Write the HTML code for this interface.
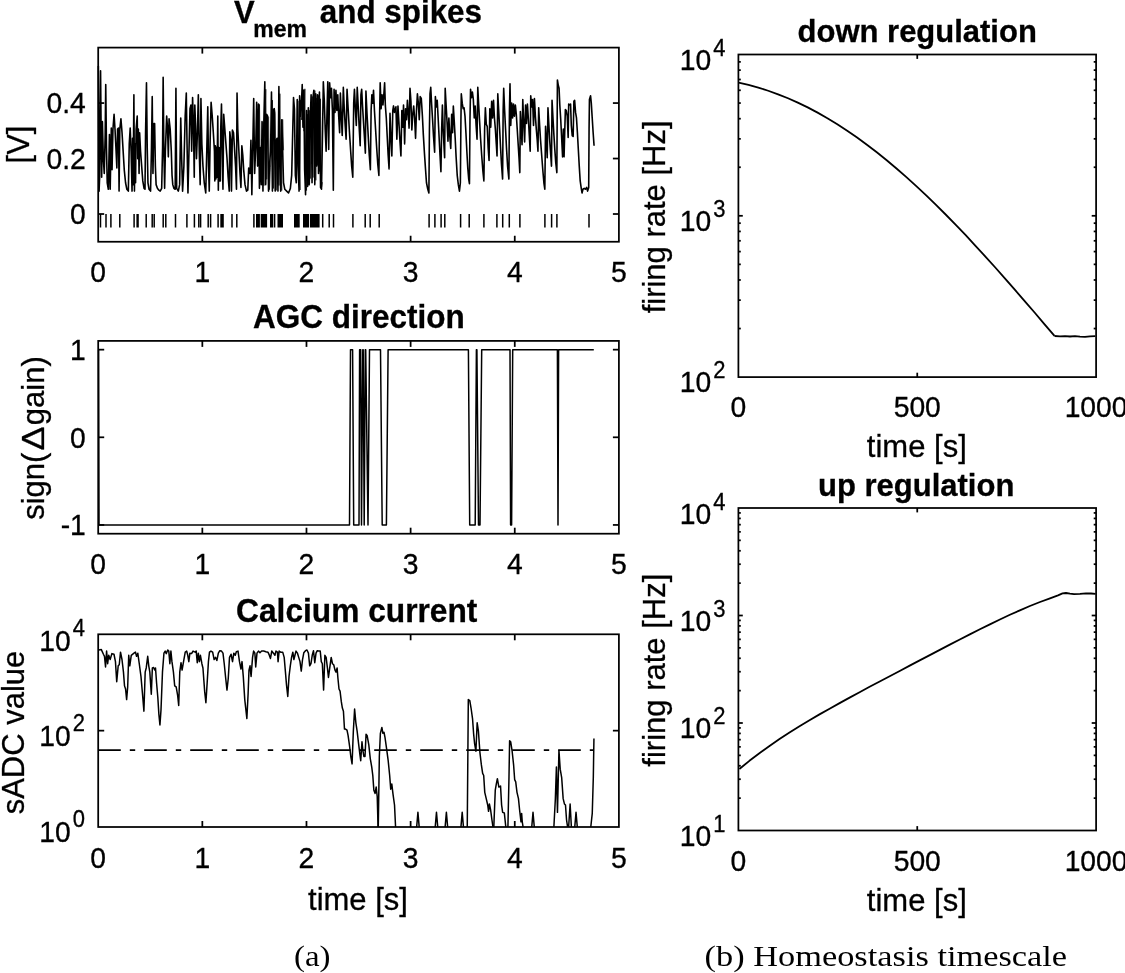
<!DOCTYPE html>
<html><head><meta charset="utf-8"><title>figure</title>
<style>html,body{margin:0;padding:0;background:#fff;overflow:hidden}svg{display:block}text{font-family:"Liberation Sans",sans-serif;fill:#000}.cap{font-family:"Liberation Serif",serif}</style></head><body>
<svg width="1125" height="973" viewBox="0 0 1125 973" stroke="#000">
<g id="p1">
<polyline fill="none" stroke-width="1.6" stroke-linejoin="round"  points="98.33,66.11 99.07,191.11 99.63,177.22 100.56,70.74 101.11,129.07 101.67,177.22 102.41,121.67 103.33,158.7 104.26,173.52 105.19,134.63 105.74,84.63 106.48,147.59 107.22,182.78 108.33,189.26 109.44,134.63 110.19,189.26 111.3,128.15 112.04,169.81 112.96,129.07 114.07,114.26 115,129.07 115.93,147.59 116.85,167.96 117.59,129.07 118.52,128.15 119.07,191.11 119.81,129.07 120.93,118.89 122.04,132.78 123.15,151.3 124.26,169.81 125.56,182.78 126.85,189.26 128.33,191.11 129.26,143.89 130.19,128.15 131.11,151.3 132.04,191.11 132.59,138.33 133.15,184.63 133.89,94.81 134.44,191.11 135,143.89 135.56,182.78 136.11,129.07 137.22,116.11 137.78,158.7 138.33,129.07 139.07,173.52 139.63,132.78 140.56,151.3 141.67,166.11 142.78,180.93 144.07,188.33 145,189.26 145.56,132.78 146.48,82.78 147.22,147.59 147.96,182.78 149.07,189.26 150.56,191.11 151.48,147.59 152.22,96.67 152.96,173.52 153.89,123.52 154.63,123.52 155.37,166.11 156.11,184.63 157.41,188.33 158.89,190.19 160.19,191.11 161.67,188.33 162.59,147.59 163.15,77.22 163.89,151.3 164.63,188.33 165.37,151.3 166.67,116.11 167.59,129.07 168.33,156.85 169.07,118.89 170.19,129.07 171.3,151.3 172.04,175.37 172.78,184.63 173.89,188.33 175.19,189.26 175.93,88.33 176.67,188.33 178.33,191.11 179.63,184.63 180.74,117.96 181.67,158.7 182.59,191.11 183.89,166.11 185.19,116.11 186.3,92.96 187.04,143.89 187.96,192.96 189.07,147.59 190,108.7 190.93,105 191.67,151.3 192.59,97.59 193.52,129.07 194.26,177.22 194.81,105 195.56,125.37 196.48,158.7 197.41,132.78 198.33,94.81 199.26,151.3 200.19,184.63 200.93,98.52 201.85,143.89 202.96,166.11 204.26,182.78 205.74,192.96 206.67,155 207.78,106.85 208.52,166.11 209.26,191.11 210.19,138.33 211.11,102.22 212.22,116.11 213.33,132.78 214.44,151.3 214.81,180.93 215.37,145.74 215.93,179.07 216.48,147.59 217.04,177.22 217.78,116.11 218.33,190.19 218.89,147.59 219.44,180.93 220,147.59 220.37,180.93 220.74,129.07 221.48,104.07 222.22,147.59 222.96,189.26 223.7,114.26 224.81,129.07 225.93,143.89 227.04,158.7 228.15,177.22 229.26,191.11 229.81,131.85 230.74,140.19 231.48,191.11 232.41,130 233.52,132.78 234.44,147.59 235.56,166.11 236.48,189.26 237.04,92.96 237.78,129.07 238.89,151.3 240,173.52 240.93,187.41 241.85,145.74 242.78,155 243.7,169.81 245,184.63 246.48,191.11 247.78,190.19 248.7,167.96 250,173.52 250.93,140.19 251.85,194.81 252.78,147.59 253.7,98.52 254.63,173.52 255.74,147.59 256.67,102.22 257.59,166.11 258.52,104.07 259.44,188.33 260.37,147.59 261.3,184.63 262.04,121.67 262.96,191.11 263.89,119.81 264.81,81.85 265.74,184.63 266.67,114.26 267.59,116.11 268.52,191.11 269.44,166.11 270.56,151.3 271.48,92.04 272.41,191.11 273.33,109.63 274.26,108.7 275.19,191.11 276.11,140.19 277.04,138.33 277.96,191.11 278.89,86.48 279.81,166.11 280.74,191.11 281.67,119.81 282.59,147.59 283.52,182.78 284.81,189.26 286.67,191.11 288.52,192.96 290.37,188.33 291.67,175.37 292.78,129.07 293.52,97.59 294.44,108.7 295.37,175.37 296.3,182.78 297.22,99.44 298.15,166.11 299.07,191.11 299.63,95.74 300.56,116.11 301.3,106.85 302.22,84.63 302.96,127.22 303.89,90.19 304.63,169.81 305.56,194.81 306.48,110.56 307.59,186.48 308.33,107.78 309.26,184.63 310.19,119.81 311.11,94.81 312.04,182.78 312.96,97.59 313.89,90.19 314.81,184.63 315.74,93.89 316.67,166.11 317.59,94.81 318.52,173.52 319.44,92.04 320.56,187.41 321.48,189.26 322.59,129.07 323.33,81.85 324.26,99.44 325.19,129.07 326.11,151.3 327.04,110.56 327.78,81.85 328.7,149.44 329.63,82.78 330.56,97.59 331.48,88.33 332.41,110.56 333.33,190.19 334.07,89.26 335,112.41 335.93,90.19 336.85,110.56 337.78,94.81 338.7,116.11 339.63,132.78 340.37,92.96 341.3,116.11 342.22,135.56 343.33,87.41 344.26,108.7 345.19,125.37 346.11,139.26 347.04,89.26 348.15,108.7 349.26,129.07 350.56,149.44 351.67,166.11 352.78,177.22 353.7,103.15 354.44,89.26 355.37,108.7 356.3,125.37 357.22,87.41 358.33,108.7 359.26,129.07 360.19,145.74 360.93,94.81 361.67,89.26 362.59,106.85 363.7,125.37 364.63,140.19 365.37,153.15 365.93,91.11 367.04,114.26 368.15,134.63 369.26,155 370.37,169.81 371.11,110.56 371.85,94.81 372.78,103.15 373.52,90.19 374.44,110.56 375.56,129.07 376.67,147.59 377.78,164.26 378.89,175.37 379.63,114.26 380.19,82.78 381.11,108.7 382.04,94.81 382.96,105 383.89,93.89 384.63,82.78 385.37,105.93 386.3,117.96 387.22,136.48 388.15,155 389.07,168.89 390,113.33 390.93,138.33 391.85,155.93 392.78,110.56 393.52,105.93 394.44,112.41 395.93,106.85 396.85,139.26 397.96,105.93 399.07,125.37 400,142.04 400.93,155.93 401.85,110.56 402.78,127.22 403.52,105 404.63,143.89 405.56,108.7 406.48,119.81 407.41,100.37 408.33,114.26 409.07,128.15 410,88.33 410.93,101.3 411.85,130 412.78,114.26 413.7,105.93 414.63,117.96 415.56,138.33 416.48,110.56 417.41,93.89 418.33,103.15 419.26,119.81 420.19,96.67 421.3,98.52 422.41,116.11 423.33,134.63 424.44,153.15 425.56,169.81 426.48,182.78 427.78,189.26 428.89,192.96 429.44,129.07 430,93.89 430.74,87.41 431.67,105 432.59,119.81 433.52,136.48 434.63,152.22 435.37,96.67 436.3,106.85 437.22,100.37 438.15,117.96 439.07,136.48 440,155 440.93,171.67 441.67,129.07 442.41,105 443.15,129.07 443.89,143.89 444.63,157.78 445.19,88.33 446.11,105 447.04,121.67 447.96,141.11 448.89,117.96 449.81,136.48 450.74,148.52 451.67,114.26 452.59,132.78 453.33,105.93 454.26,121.67 455.19,138.33 456.11,156.85 457.22,175.37 458.33,184.63 459.44,191.11 460.37,182.78 460.93,119.81 461.3,93.89 462.22,103.15 463.15,108.7 464.07,107.78 465,116.11 465.93,132.78 466.85,151.3 467.78,167.96 468.7,179.07 469.44,183.7 470,117.96 470.56,89.26 471.48,97.59 472.41,92.04 473.33,99.44 474.26,117.96 475.19,105.93 476.11,125.37 477.04,139.26 477.78,87.41 478.7,105 479.63,121.67 480.56,138.33 481.67,155 482.78,169.81 483.89,180.93 484.63,129.07 485.37,107.78 486.3,124.44 487.22,126.3 488.15,147.59 489.07,160.56 489.81,108.7 490.74,127.22 491.67,101.3 492.59,117.96 493.52,100.37 494.44,117.96 495.37,129.07 496.3,143.89 497.04,155.93 497.78,93.89 498.7,110.56 499.63,129.07 500.56,147.59 501.48,164.26 502.59,179.07 503.15,110.56 503.7,88.33 504.63,110.56 505.56,129.07 506.48,147.59 507.59,166.11 508.89,179.07 509.44,110.56 510,83.7 510.74,125.37 511.67,103.15 512.59,117.96 513.52,104.07 514.44,116.11 515.37,105 516.3,114.26 517.22,129.07 518.15,143.89 519.07,158.7 519.81,172.59 520.37,111.48 521.3,129.07 522.04,144.81 522.78,99.44 523.7,121.67 524.63,142.04 525.56,105 526.48,123.52 527.41,104.07 528.33,117.96 529.26,134.63 530.19,151.3 530.74,95.74 531.67,106.85 532.59,99.44 533.52,125.37 534.44,98.52 535.37,116.11 536.3,129.07 537.22,140.19 537.96,151.3 538.7,107.78 539.63,125.37 540.56,140.19 541.67,155 542.78,169.81 543.89,182.78 544.81,189.26 545.56,126.3 546.48,142.04 547.22,157.78 547.96,107.78 548.89,125.37 549.81,142.04 550.74,155 551.48,166.11 552.04,100.37 552.96,117.96 553.89,134.63 554.81,149.44 555.74,162.41 556.85,172.59 557.41,80 558.33,85.56 559.07,88.33 559.81,105 560.74,119.81 561.67,138.33 562.59,156.85 563.33,129.07 564.07,156.85 564.81,129.07 565.37,109.63 566.3,110.56 567.22,116.11 568.15,137.41 568.7,104.07 569.63,105 570.56,104.07 571.3,125.37 572.22,135.56 573.15,136.48 573.89,101.3 574.63,100.37 575.56,112.41 576.48,117.96 577.41,132.78 578.33,149.44 579.26,166.11 580.19,180.93 581.11,187.41 582.04,192.96 582.96,189.26 584.26,188.33 585.37,189.26 586.67,187.41 587.59,191.11 588.7,187.41 589.07,129.07 589.44,99.44 590.56,95.74 591.3,103.15 592.22,117.96 593.15,132.78 594.07,145.74"/>
<polyline fill="none" stroke-width="0.7" stroke-linejoin="round"  points="257.67,108.85 258.59,163.95 259.52,104.46 260.44,181.61 261.37,145.47 262.3,184.42 263.04,122.26 263.96,185.61 264.89,123.79 265.81,89.23 266.74,179.34 267.67,116.24 268.59,117.19 269.52,189.68 270.44,167.14 271.56,153.41 272.48,100.13 273.41,188.49 274.33,108.05 275.26,113.11 276.19,190.4 277.11,139.28 278.04,138.21 278.96,185.51 279.89,93.69 280.81,167.28 281.74,190.5 282.67,119.38 283.59,150.28"/>
<polyline fill="none" stroke-width="0.7" stroke-linejoin="round"  points="298.22,100.71 299.15,163.11 300.07,189.97 300.63,100.02 301.56,119.86 302.3,115.43 303.22,89.53 303.96,131.2 304.89,88.82 305.63,165.09 306.56,190.5 307.48,114.24 308.59,185.27 309.33,110.24 310.26,178.57 311.19,123.14 312.11,96.58 313.04,177.56 313.96,106.71 314.89,90.56 315.81,180.37 316.74,98.03 317.67,164.88 318.59,95.44 319.52,171.48 320.44,98.77 321.56,187.34 322.48,182.24"/>
<line x1="100.5" y1="214" x2="100.5" y2="227.5" stroke-width="1.5" />
<line x1="106" y1="214" x2="106" y2="227.5" stroke-width="1.5" />
<line x1="110.9" y1="214" x2="110.9" y2="227.5" stroke-width="1.5" />
<line x1="119.8" y1="214" x2="119.8" y2="227.5" stroke-width="1.5" />
<line x1="134.1" y1="214" x2="134.1" y2="227.5" stroke-width="1.5" />
<line x1="146.2" y1="214" x2="146.2" y2="227.5" stroke-width="1.5" />
<line x1="152.2" y1="214" x2="152.2" y2="227.5" stroke-width="1.5" />
<line x1="154.2" y1="214" x2="154.2" y2="227.5" stroke-width="1.5" />
<line x1="163.2" y1="214" x2="163.2" y2="227.5" stroke-width="1.5" />
<line x1="165.8" y1="214" x2="165.8" y2="227.5" stroke-width="1.5" />
<line x1="175.5" y1="214" x2="175.5" y2="227.5" stroke-width="1.5" />
<line x1="186.9" y1="214" x2="186.9" y2="227.5" stroke-width="1.5" />
<line x1="194.4" y1="214" x2="194.4" y2="227.5" stroke-width="1.5" />
<line x1="198.8" y1="214" x2="198.8" y2="227.5" stroke-width="1.5" />
<line x1="200.6" y1="214" x2="200.6" y2="227.5" stroke-width="1.5" />
<line x1="208.2" y1="214" x2="208.2" y2="227.5" stroke-width="1.5" />
<line x1="210.6" y1="214" x2="210.6" y2="227.5" stroke-width="1.5" />
<line x1="218.1" y1="214" x2="218.1" y2="227.5" stroke-width="1.5" />
<line x1="232" y1="214" x2="232" y2="227.5" stroke-width="1.5" />
<line x1="236.8" y1="214" x2="236.8" y2="227.5" stroke-width="1.5" />
<line x1="253.9" y1="214" x2="253.9" y2="227.5" stroke-width="1.5" />
<line x1="274.6" y1="214" x2="274.6" y2="227.5" stroke-width="1.5" />
<line x1="322.7" y1="214" x2="322.7" y2="227.5" stroke-width="1.5" />
<line x1="329.2" y1="214" x2="329.2" y2="227.5" stroke-width="1.5" />
<line x1="333.5" y1="214" x2="333.5" y2="227.5" stroke-width="1.5" />
<line x1="352.9" y1="214" x2="352.9" y2="227.5" stroke-width="1.5" />
<line x1="365.2" y1="214" x2="365.2" y2="227.5" stroke-width="1.5" />
<line x1="370.2" y1="214" x2="370.2" y2="227.5" stroke-width="1.5" />
<line x1="379.2" y1="214" x2="379.2" y2="227.5" stroke-width="1.5" />
<line x1="429.1" y1="214" x2="429.1" y2="227.5" stroke-width="1.5" />
<line x1="434.9" y1="214" x2="434.9" y2="227.5" stroke-width="1.5" />
<line x1="441.1" y1="214" x2="441.1" y2="227.5" stroke-width="1.5" />
<line x1="444.8" y1="214" x2="444.8" y2="227.5" stroke-width="1.5" />
<line x1="460.6" y1="214" x2="460.6" y2="227.5" stroke-width="1.5" />
<line x1="469.2" y1="214" x2="469.2" y2="227.5" stroke-width="1.5" />
<line x1="483.9" y1="214" x2="483.9" y2="227.5" stroke-width="1.5" />
<line x1="496.9" y1="214" x2="496.9" y2="227.5" stroke-width="1.5" />
<line x1="502.7" y1="214" x2="502.7" y2="227.5" stroke-width="1.5" />
<line x1="509.3" y1="214" x2="509.3" y2="227.5" stroke-width="1.5" />
<line x1="519.9" y1="214" x2="519.9" y2="227.5" stroke-width="1.5" />
<line x1="544.9" y1="214" x2="544.9" y2="227.5" stroke-width="1.5" />
<line x1="551.6" y1="214" x2="551.6" y2="227.5" stroke-width="1.5" />
<line x1="556.9" y1="214" x2="556.9" y2="227.5" stroke-width="1.5" />
<line x1="589" y1="214" x2="589" y2="227.5" stroke-width="1.5" />
<rect x="136.4" y="214" width="2.4" height="13.5" stroke="none" fill="#000"/>
<rect x="220.3" y="214" width="3.5" height="13.5" stroke="none" fill="#000"/>
<rect x="256" y="214" width="3.9" height="13.5" stroke="none" fill="#000"/>
<rect x="260.7" y="214" width="6.4" height="13.5" stroke="none" fill="#000"/>
<rect x="270" y="214" width="3.2" height="13.5" stroke="none" fill="#000"/>
<rect x="277.5" y="214" width="5.5" height="13.5" stroke="none" fill="#000"/>
<rect x="294" y="214" width="5.7" height="13.5" stroke="none" fill="#000"/>
<rect x="303" y="214" width="6" height="13.5" stroke="none" fill="#000"/>
<rect x="309.9" y="214" width="9.7" height="13.5" stroke="none" fill="#000"/>
<rect x="98.2" y="47.6" width="520.7" height="194.15" fill="none" stroke-width="1.75"/>
<line x1="202.34" y1="241.75" x2="202.34" y2="235.75" stroke-width="1.75" />
<line x1="202.34" y1="47.6" x2="202.34" y2="53.6" stroke-width="1.75" />
<line x1="306.48" y1="241.75" x2="306.48" y2="235.75" stroke-width="1.75" />
<line x1="306.48" y1="47.6" x2="306.48" y2="53.6" stroke-width="1.75" />
<line x1="410.62" y1="241.75" x2="410.62" y2="235.75" stroke-width="1.75" />
<line x1="410.62" y1="47.6" x2="410.62" y2="53.6" stroke-width="1.75" />
<line x1="514.76" y1="241.75" x2="514.76" y2="235.75" stroke-width="1.75" />
<line x1="514.76" y1="47.6" x2="514.76" y2="53.6" stroke-width="1.75" />
<line x1="98.2" y1="214.01" x2="104.2" y2="214.01" stroke-width="1.75" />
<line x1="618.9" y1="214.01" x2="612.9" y2="214.01" stroke-width="1.75" />
<line x1="98.2" y1="158.54" x2="104.2" y2="158.54" stroke-width="1.75" />
<line x1="618.9" y1="158.54" x2="612.9" y2="158.54" stroke-width="1.75" />
<line x1="98.2" y1="103.07" x2="104.2" y2="103.07" stroke-width="1.75" />
<line x1="618.9" y1="103.07" x2="612.9" y2="103.07" stroke-width="1.75" />
</g>
<g id="p2">
<polyline fill="none" stroke-width="1.5" stroke-linejoin="round" stroke-linejoin="miter" points="98.6,349.66 99,524.94 349.5,524.94 350.5,349.66 352.6,349.66 353.7,524.94 359,524.94 359.6,349.66 360.7,349.66 361.5,524.94 362.8,349.66 363.2,349.66 364.2,524.94 365.3,349.66 365.7,349.66 368,524.94 369.5,349.66 380.5,349.66 382.2,524.94 386.4,524.94 388.1,349.66 468.4,349.66 469.7,524.94 475.2,524.94 476.4,349.66 476.9,349.66 478.5,524.94 480,524.94 481.7,349.66 510,349.66 510.6,524.94 511.6,524.94 512.7,349.66 557.4,349.66 558,524.94 558.6,349.66 593.8,349.66"/>
<rect x="98.2" y="340.9" width="520.7" height="192.8" fill="none" stroke-width="1.75"/>
<line x1="202.34" y1="533.7" x2="202.34" y2="527.7" stroke-width="1.75" />
<line x1="202.34" y1="340.9" x2="202.34" y2="346.9" stroke-width="1.75" />
<line x1="306.48" y1="533.7" x2="306.48" y2="527.7" stroke-width="1.75" />
<line x1="306.48" y1="340.9" x2="306.48" y2="346.9" stroke-width="1.75" />
<line x1="410.62" y1="533.7" x2="410.62" y2="527.7" stroke-width="1.75" />
<line x1="410.62" y1="340.9" x2="410.62" y2="346.9" stroke-width="1.75" />
<line x1="514.76" y1="533.7" x2="514.76" y2="527.7" stroke-width="1.75" />
<line x1="514.76" y1="340.9" x2="514.76" y2="346.9" stroke-width="1.75" />
<line x1="98.2" y1="349.66" x2="104.2" y2="349.66" stroke-width="1.75" />
<line x1="618.9" y1="349.66" x2="612.9" y2="349.66" stroke-width="1.75" />
<line x1="98.2" y1="437.3" x2="104.2" y2="437.3" stroke-width="1.75" />
<line x1="618.9" y1="437.3" x2="612.9" y2="437.3" stroke-width="1.75" />
<line x1="98.2" y1="524.94" x2="104.2" y2="524.94" stroke-width="1.75" />
<line x1="618.9" y1="524.94" x2="612.9" y2="524.94" stroke-width="1.75" />
</g>
<g id="p3">
<clipPath id="c3"><rect x="98.2" y="634.3" width="520.6999999999999" height="192.70000000000005"/></clipPath>
<g clip-path="url(#c3)">
<polyline fill="none" stroke-width="1.5" stroke-linejoin="round"  points="98.8,650.03 101.33,649.61 103.43,654.25 104.49,656.35 105.54,666.9 106.6,651.08 107.65,663.73 108.7,655.3 110.18,659.52 111.87,653.61 113.98,654.25 115.45,661.63 116.72,681.66 118.19,665.84 119.25,664.79 120.51,652.14 121.99,659.52 123.46,672.17 124.52,685.87 125.57,689.03 126.63,699.58 127.68,686.93 128.73,655.3 129.79,665.84 131.26,655.3 134,653.19 135.48,652.14 136.53,656.35 137.8,653.19 139.28,663.73 140.96,676.38 142.44,693.25 143.91,711.17 145.18,672.17 146.23,667.95 147.71,656.35 148.76,665.84 149.82,672.17 151.29,694.31 152.35,667.95 153.61,667.53 154.67,670.06 155.51,667.95 156.56,682.71 157.83,697.47 158.88,714.33 159.94,724.88 160.99,710.12 162.47,672.17 163.94,653.19 165.21,651.08 166.26,653.61 167.74,650.03 168.79,651.08 169.85,663.73 170.9,651.08 171.96,661.63 173.43,672.17 174.7,685.87 176.17,686.93 177.65,695.36 178.7,705.48 179.76,672.17 181.02,662.68 182.08,670.06 183.55,661.63 185.24,652.14 186.71,651.08 187.77,655.3 188.82,661.63 189.88,653.19 191.56,653.61 193.04,651.08 195.15,652.14 196.2,651.08 197.26,662.68 198.31,653.19 199.36,661.63 200.42,655.3 201.89,663.73 202.95,667.95 204.64,691.14 205.9,702.74 207.17,682.71 208.43,661.63 209.48,652.14 210.96,651.08 212.65,652.14 214.12,659.52 215.6,657.41 216.86,660.57 218.34,653.19 219.82,650.66 221.5,651.08 222.98,653.19 224.24,663.73 225.72,678.49 226.98,690.09 228.25,678.49 229.51,657.41 231.05,654.25 232.53,661.63 233.8,653.19 235.27,655.3 236.33,651.72 238.01,651.08 239.49,661.63 240.96,669 242.02,661.63 243.28,676.38 244.76,699.58 246.87,718.55 248.13,693.25 248.98,670.06 250.03,665.84 251.08,676.38 252.56,657.41 253.61,651.08 254.88,653.19 255.72,666.9 256.99,653.19 258.46,651.08 259.94,652.77 261.63,651.08 263.73,651.08 265.84,651.72 267.95,652.14 269.22,654.88 270.48,658.46 271.75,651.08 273.43,653.19 274.91,655.3 275.96,651.08 277.44,652.14 278.07,661.63 279.13,651.08 280.6,652.14 282.71,652.14 284.19,657.41 285.45,672.17 286.5,684.82 287.77,696.41 289.03,676.38 290.3,665.84 291.56,657.41 292.83,652.14 293.88,659.52 294.94,655.3 295.99,651.08 297.47,653.19 298.73,657.41 300,661.63 301.26,671.11 302.53,659.52 303.79,652.77 305.48,650.66 306.96,650.03 308.43,653.19 309.7,665.84 310.96,663.73 312.23,655.3 313.49,650.66 314.76,662.68 316.02,653.19 317.29,650.66 318.55,651.08 320.24,651.08 321.29,661.63 322.35,663.73 323.61,690.09 324.88,655.3 326.14,657.41 327.41,667.95 328.46,677.44 329.73,667.95 331.2,657.41 332.47,663.73 333.73,664.79 335,670.06 336.05,672.17 337.11,667.95 337.95,678.49 339,689.03 340.06,691.14 341.32,701.68 342.38,708.01 343.43,711.17 344.48,729.09 345.54,729.09 347.01,730.15 348.07,735.42 349.54,745.96 350.81,756.5 352.07,763.88 353.34,731.2 354.6,709.06 355.87,722.77 357.13,731.2 358.61,743.85 359.88,754.39 360.72,760.72 361.98,741.74 362.83,750.18 363.88,756.5 365,756.5 366.05,734.36 367.11,735.42 368.8,744.91 370.27,758.61 371.75,767.04 372.8,775.48 373.86,790.24 375.12,793.4 376.17,787.07 377.23,796.56 378.07,827"/>
<polyline fill="none" stroke-width="1.5" stroke-linejoin="round"  points="378.28,827 379.34,756.5 380.39,733.31 381.87,727.41 382.92,733.31 383.98,732.26 385.03,737.53 386.51,748.07 388.19,760.72 389.67,775.48 390.72,789.18 391.78,783.91 393.04,794.45 394.52,804.99 395.57,827"/>
<polyline fill="none" stroke-width="1.5" stroke-linejoin="round"  points="416.66,827 417.92,812.37 419.19,827"/>
<polyline fill="none" stroke-width="1.5" stroke-linejoin="round"  points="435.21,827 436.47,812.37 437.74,827"/>
<polyline fill="none" stroke-width="1.5" stroke-linejoin="round"  points="445.12,827 446.38,812.37 447.65,827"/>
<polyline fill="none" stroke-width="1.5" stroke-linejoin="round"  points="460.93,827 462.2,812.37 463.46,827"/>
<polyline fill="none" stroke-width="1.5" stroke-linejoin="round"  points="467.26,827 468.31,699.58 469.79,700.63 471.05,708.01 472.53,718.55 473.58,733.31 474.64,743.85 475.9,751.23 477.17,722.77 478.43,731.2 479.91,752.29 481.38,764.94 482.65,773.37 483.7,775.48 484.76,792.34 486.23,798.67 487.71,804.99 488.55,811.32 489.39,803.94 490.66,810.27 491.92,819.75 492.98,827"/>
<polyline fill="none" stroke-width="1.5" stroke-linejoin="round"  points="493.8,827 495.27,790.24 496.33,783.91 497.38,778.64 498.86,787.07 500.54,786.02 501.6,804.99 502.65,812.37 504.34,813.01 505.81,827"/>
<polyline fill="none" stroke-width="1.5" stroke-linejoin="round"  points="507.92,827 508.98,777.59 509.61,740.69 510.66,741.74 512.14,751.23 513.61,764.94 514.67,779.69 515.72,781.8 516.99,792.34 518.46,798.67 519.52,809.21 520.99,821.86 521.63,813.43 522.26,821.86 523.1,827"/>
<polyline fill="none" stroke-width="1.5" stroke-linejoin="round"  points="531.75,827 533.01,812.37 534.28,827"/>
<polyline fill="none" stroke-width="1.5" stroke-linejoin="round"  points="553.88,827 555.36,798.67 556.41,767.04 557.47,812.37 558.94,750.18 560.21,769.15 561.68,777.59 563.16,798.67 564.43,803.94 565.48,804.99 566.53,819.75 567.59,827"/>
<polyline fill="none" stroke-width="1.5" stroke-linejoin="round"  points="568.64,827 570.12,803.94 571.38,827"/>
<polyline fill="none" stroke-width="1.5" stroke-linejoin="round"  points="574.76,827 576.02,812.37 577.29,827"/>
<polyline fill="none" stroke-width="1.5" stroke-linejoin="round"  points="590.78,827 592.26,813.43 593.31,777.59 593.94,738.58"/>
</g>
<line x1="98.2" y1="750.2" x2="593.8" y2="750.2" stroke-width="1.7" stroke-dasharray="22.6 9 5.4 9"/>
<rect x="98.2" y="634.3" width="520.7" height="192.7" fill="none" stroke-width="1.75"/>
<line x1="202.34" y1="827" x2="202.34" y2="821" stroke-width="1.75" />
<line x1="202.34" y1="634.3" x2="202.34" y2="640.3" stroke-width="1.75" />
<line x1="306.48" y1="827" x2="306.48" y2="821" stroke-width="1.75" />
<line x1="306.48" y1="634.3" x2="306.48" y2="640.3" stroke-width="1.75" />
<line x1="410.62" y1="827" x2="410.62" y2="821" stroke-width="1.75" />
<line x1="410.62" y1="634.3" x2="410.62" y2="640.3" stroke-width="1.75" />
<line x1="514.76" y1="827" x2="514.76" y2="821" stroke-width="1.75" />
<line x1="514.76" y1="634.3" x2="514.76" y2="640.3" stroke-width="1.75" />
<line x1="98.2" y1="730.65" x2="104.2" y2="730.65" stroke-width="1.75" />
<line x1="618.9" y1="730.65" x2="612.9" y2="730.65" stroke-width="1.75" />
</g>
<g id="r1">
<polyline fill="none" stroke-width="1.8" stroke-linejoin="round"  points="738.6,82.68 748.5,84.95 758.3,87.64 768.2,90.75 778.1,94.29 788,98.25 797.8,102.63 807.7,107.42 817.6,112.64 827.4,118.26 837.3,124.28 847.2,130.71 857.1,137.53 866.9,144.72 876.8,152.3 886.7,160.23 896.5,168.51 906.4,177.14 916.3,186.09 926.2,195.35 936,204.91 945.9,214.75 955.8,224.85 965.7,235.2 975.5,245.77 985.4,256.55 995.3,267.52 1005.1,278.64 1015,289.91 1024.9,301.3 1034.8,312.77 1044.6,324.32 1054.5,335.9"/>
<polyline fill="none" stroke-width="1.8" stroke-linejoin="round"  points="1054.5,336 1060,336.3 1065,336.1 1070,336.5 1075,336.2 1080,336.7 1085,336.8 1090,336.3 1095.3,336.2"/>
<rect x="738.4" y="54.5" width="357.7" height="322.6" fill="none" stroke-width="1.75"/>
<line x1="917.25" y1="377.1" x2="917.25" y2="372.7" stroke-width="1.75" />
<line x1="917.25" y1="54.5" x2="917.25" y2="58.9" stroke-width="1.75" />
<line x1="738.4" y1="328.54" x2="740.8" y2="328.54" stroke-width="1.75" />
<line x1="1096.1" y1="328.54" x2="1093.7" y2="328.54" stroke-width="1.75" />
<line x1="738.4" y1="300.14" x2="740.8" y2="300.14" stroke-width="1.75" />
<line x1="1096.1" y1="300.14" x2="1093.7" y2="300.14" stroke-width="1.75" />
<line x1="738.4" y1="279.99" x2="740.8" y2="279.99" stroke-width="1.75" />
<line x1="1096.1" y1="279.99" x2="1093.7" y2="279.99" stroke-width="1.75" />
<line x1="738.4" y1="264.36" x2="740.8" y2="264.36" stroke-width="1.75" />
<line x1="1096.1" y1="264.36" x2="1093.7" y2="264.36" stroke-width="1.75" />
<line x1="738.4" y1="251.58" x2="740.8" y2="251.58" stroke-width="1.75" />
<line x1="1096.1" y1="251.58" x2="1093.7" y2="251.58" stroke-width="1.75" />
<line x1="738.4" y1="240.79" x2="740.8" y2="240.79" stroke-width="1.75" />
<line x1="1096.1" y1="240.79" x2="1093.7" y2="240.79" stroke-width="1.75" />
<line x1="738.4" y1="231.43" x2="740.8" y2="231.43" stroke-width="1.75" />
<line x1="1096.1" y1="231.43" x2="1093.7" y2="231.43" stroke-width="1.75" />
<line x1="738.4" y1="223.18" x2="740.8" y2="223.18" stroke-width="1.75" />
<line x1="1096.1" y1="223.18" x2="1093.7" y2="223.18" stroke-width="1.75" />
<line x1="738.4" y1="215.8" x2="742.8" y2="215.8" stroke-width="1.75" />
<line x1="1096.1" y1="215.8" x2="1091.7" y2="215.8" stroke-width="1.75" />
<line x1="738.4" y1="167.24" x2="740.8" y2="167.24" stroke-width="1.75" />
<line x1="1096.1" y1="167.24" x2="1093.7" y2="167.24" stroke-width="1.75" />
<line x1="738.4" y1="138.84" x2="740.8" y2="138.84" stroke-width="1.75" />
<line x1="1096.1" y1="138.84" x2="1093.7" y2="138.84" stroke-width="1.75" />
<line x1="738.4" y1="118.69" x2="740.8" y2="118.69" stroke-width="1.75" />
<line x1="1096.1" y1="118.69" x2="1093.7" y2="118.69" stroke-width="1.75" />
<line x1="738.4" y1="103.06" x2="740.8" y2="103.06" stroke-width="1.75" />
<line x1="1096.1" y1="103.06" x2="1093.7" y2="103.06" stroke-width="1.75" />
<line x1="738.4" y1="90.28" x2="740.8" y2="90.28" stroke-width="1.75" />
<line x1="1096.1" y1="90.28" x2="1093.7" y2="90.28" stroke-width="1.75" />
<line x1="738.4" y1="79.49" x2="740.8" y2="79.49" stroke-width="1.75" />
<line x1="1096.1" y1="79.49" x2="1093.7" y2="79.49" stroke-width="1.75" />
<line x1="738.4" y1="70.13" x2="740.8" y2="70.13" stroke-width="1.75" />
<line x1="1096.1" y1="70.13" x2="1093.7" y2="70.13" stroke-width="1.75" />
<line x1="738.4" y1="61.88" x2="740.8" y2="61.88" stroke-width="1.75" />
<line x1="1096.1" y1="61.88" x2="1093.7" y2="61.88" stroke-width="1.75" />
</g>
<g id="r2">
<polyline fill="none" stroke-width="1.8" stroke-linejoin="round"  points="739.4,768.94 749.4,760.83 759.4,753.19 769.5,745.97 779.5,739.11 789.5,732.56 799.5,726.29 809.5,720.24 819.5,714.38 829.6,708.67 839.6,703.09 849.6,697.6 859.6,692.19 869.6,686.83 879.7,681.51 889.7,676.21 899.7,670.93 909.7,665.65 919.7,660.39 929.8,655.13 939.8,649.89 949.8,644.67 959.8,639.49 969.8,634.36 979.9,629.3 989.9,624.34 999.9,619.5 1009.9,614.81 1019.9,610.31 1029.9,606.03 1040,602.02 1050,598.32 1058,595.3 1062.5,593.4 1066,593 1070,593.6 1074,594.1 1080,593.9 1086,593.3 1091,593.5 1095.6,593.9"/>
<rect x="738.4" y="508" width="357.7" height="322.5" fill="none" stroke-width="1.75"/>
<line x1="917.25" y1="830.5" x2="917.25" y2="826.1" stroke-width="1.75" />
<line x1="917.25" y1="508" x2="917.25" y2="512.4" stroke-width="1.75" />
<line x1="738.4" y1="798.14" x2="740.8" y2="798.14" stroke-width="1.75" />
<line x1="1096.1" y1="798.14" x2="1093.7" y2="798.14" stroke-width="1.75" />
<line x1="738.4" y1="779.21" x2="740.8" y2="779.21" stroke-width="1.75" />
<line x1="1096.1" y1="779.21" x2="1093.7" y2="779.21" stroke-width="1.75" />
<line x1="738.4" y1="765.78" x2="740.8" y2="765.78" stroke-width="1.75" />
<line x1="1096.1" y1="765.78" x2="1093.7" y2="765.78" stroke-width="1.75" />
<line x1="738.4" y1="755.36" x2="740.8" y2="755.36" stroke-width="1.75" />
<line x1="1096.1" y1="755.36" x2="1093.7" y2="755.36" stroke-width="1.75" />
<line x1="738.4" y1="746.85" x2="740.8" y2="746.85" stroke-width="1.75" />
<line x1="1096.1" y1="746.85" x2="1093.7" y2="746.85" stroke-width="1.75" />
<line x1="738.4" y1="739.65" x2="740.8" y2="739.65" stroke-width="1.75" />
<line x1="1096.1" y1="739.65" x2="1093.7" y2="739.65" stroke-width="1.75" />
<line x1="738.4" y1="733.42" x2="740.8" y2="733.42" stroke-width="1.75" />
<line x1="1096.1" y1="733.42" x2="1093.7" y2="733.42" stroke-width="1.75" />
<line x1="738.4" y1="727.92" x2="740.8" y2="727.92" stroke-width="1.75" />
<line x1="1096.1" y1="727.92" x2="1093.7" y2="727.92" stroke-width="1.75" />
<line x1="738.4" y1="723" x2="742.8" y2="723" stroke-width="1.75" />
<line x1="1096.1" y1="723" x2="1091.7" y2="723" stroke-width="1.75" />
<line x1="738.4" y1="690.64" x2="740.8" y2="690.64" stroke-width="1.75" />
<line x1="1096.1" y1="690.64" x2="1093.7" y2="690.64" stroke-width="1.75" />
<line x1="738.4" y1="671.71" x2="740.8" y2="671.71" stroke-width="1.75" />
<line x1="1096.1" y1="671.71" x2="1093.7" y2="671.71" stroke-width="1.75" />
<line x1="738.4" y1="658.28" x2="740.8" y2="658.28" stroke-width="1.75" />
<line x1="1096.1" y1="658.28" x2="1093.7" y2="658.28" stroke-width="1.75" />
<line x1="738.4" y1="647.86" x2="740.8" y2="647.86" stroke-width="1.75" />
<line x1="1096.1" y1="647.86" x2="1093.7" y2="647.86" stroke-width="1.75" />
<line x1="738.4" y1="639.35" x2="740.8" y2="639.35" stroke-width="1.75" />
<line x1="1096.1" y1="639.35" x2="1093.7" y2="639.35" stroke-width="1.75" />
<line x1="738.4" y1="632.15" x2="740.8" y2="632.15" stroke-width="1.75" />
<line x1="1096.1" y1="632.15" x2="1093.7" y2="632.15" stroke-width="1.75" />
<line x1="738.4" y1="625.92" x2="740.8" y2="625.92" stroke-width="1.75" />
<line x1="1096.1" y1="625.92" x2="1093.7" y2="625.92" stroke-width="1.75" />
<line x1="738.4" y1="620.42" x2="740.8" y2="620.42" stroke-width="1.75" />
<line x1="1096.1" y1="620.42" x2="1093.7" y2="620.42" stroke-width="1.75" />
<line x1="738.4" y1="615.5" x2="742.8" y2="615.5" stroke-width="1.75" />
<line x1="1096.1" y1="615.5" x2="1091.7" y2="615.5" stroke-width="1.75" />
<line x1="738.4" y1="583.14" x2="740.8" y2="583.14" stroke-width="1.75" />
<line x1="1096.1" y1="583.14" x2="1093.7" y2="583.14" stroke-width="1.75" />
<line x1="738.4" y1="564.21" x2="740.8" y2="564.21" stroke-width="1.75" />
<line x1="1096.1" y1="564.21" x2="1093.7" y2="564.21" stroke-width="1.75" />
<line x1="738.4" y1="550.78" x2="740.8" y2="550.78" stroke-width="1.75" />
<line x1="1096.1" y1="550.78" x2="1093.7" y2="550.78" stroke-width="1.75" />
<line x1="738.4" y1="540.36" x2="740.8" y2="540.36" stroke-width="1.75" />
<line x1="1096.1" y1="540.36" x2="1093.7" y2="540.36" stroke-width="1.75" />
<line x1="738.4" y1="531.85" x2="740.8" y2="531.85" stroke-width="1.75" />
<line x1="1096.1" y1="531.85" x2="1093.7" y2="531.85" stroke-width="1.75" />
<line x1="738.4" y1="524.65" x2="740.8" y2="524.65" stroke-width="1.75" />
<line x1="1096.1" y1="524.65" x2="1093.7" y2="524.65" stroke-width="1.75" />
<line x1="738.4" y1="518.42" x2="740.8" y2="518.42" stroke-width="1.75" />
<line x1="1096.1" y1="518.42" x2="1093.7" y2="518.42" stroke-width="1.75" />
<line x1="738.4" y1="512.92" x2="740.8" y2="512.92" stroke-width="1.75" />
<line x1="1096.1" y1="512.92" x2="1093.7" y2="512.92" stroke-width="1.75" />
</g>
<g stroke="#000" stroke-width="0.3">
<text transform="translate(234.1 22.7) scale(1 1.04)" font-size="31.0" text-anchor="start" font-weight="bold" >V</text>
<text transform="translate(253.2 36.9) scale(1 1.04)" font-size="23.0" text-anchor="start" font-weight="bold" >mem</text>
<text transform="translate(319.8 22.7) scale(1 1.04)" font-size="31.4" text-anchor="start" font-weight="bold" >and spikes</text>
<text transform="translate(358.9 327.8) scale(1 1.04)" font-size="31.5" text-anchor="middle" font-weight="bold" >AGC direction</text>
<text transform="translate(356.7 622.3) scale(1 1.04)" font-size="31.7" text-anchor="middle" font-weight="bold" >Calcium current</text>
<text transform="translate(917.2 41.9) scale(1 1.04)" font-size="31.0" text-anchor="middle" font-weight="bold" >down regulation</text>
<text transform="translate(916.2 495.8) scale(1 1.04)" font-size="31.0" text-anchor="middle" font-weight="bold" >up regulation</text>
<text transform="translate(98.2 282.2) scale(1 1.065)" font-size="28.3" text-anchor="middle" >0</text>
<text transform="translate(202.34 282.2) scale(1 1.065)" font-size="28.3" text-anchor="middle" >1</text>
<text transform="translate(306.48 282.2) scale(1 1.065)" font-size="28.3" text-anchor="middle" >2</text>
<text transform="translate(410.62 282.2) scale(1 1.065)" font-size="28.3" text-anchor="middle" >3</text>
<text transform="translate(514.76 282.2) scale(1 1.065)" font-size="28.3" text-anchor="middle" >4</text>
<text transform="translate(618.9 282.2) scale(1 1.065)" font-size="28.3" text-anchor="middle" >5</text>
<text transform="translate(98.2 573.6) scale(1 1.065)" font-size="28.3" text-anchor="middle" >0</text>
<text transform="translate(202.34 573.6) scale(1 1.065)" font-size="28.3" text-anchor="middle" >1</text>
<text transform="translate(306.48 573.6) scale(1 1.065)" font-size="28.3" text-anchor="middle" >2</text>
<text transform="translate(410.62 573.6) scale(1 1.065)" font-size="28.3" text-anchor="middle" >3</text>
<text transform="translate(514.76 573.6) scale(1 1.065)" font-size="28.3" text-anchor="middle" >4</text>
<text transform="translate(618.9 573.6) scale(1 1.065)" font-size="28.3" text-anchor="middle" >5</text>
<text transform="translate(98.2 868) scale(1 1.065)" font-size="28.3" text-anchor="middle" >0</text>
<text transform="translate(202.34 868) scale(1 1.065)" font-size="28.3" text-anchor="middle" >1</text>
<text transform="translate(306.48 868) scale(1 1.065)" font-size="28.3" text-anchor="middle" >2</text>
<text transform="translate(410.62 868) scale(1 1.065)" font-size="28.3" text-anchor="middle" >3</text>
<text transform="translate(514.76 868) scale(1 1.065)" font-size="28.3" text-anchor="middle" >4</text>
<text transform="translate(618.9 868) scale(1 1.065)" font-size="28.3" text-anchor="middle" >5</text>
<text transform="translate(738.4 417.3) scale(1 1.065)" font-size="28.3" text-anchor="middle" >0</text>
<text transform="translate(917.25 417.3) scale(1 1.065)" font-size="28.3" text-anchor="middle" >500</text>
<text transform="translate(1096.1 417.3) scale(1 1.065)" font-size="28.3" text-anchor="middle" >1000</text>
<text transform="translate(738.4 870.6) scale(1 1.065)" font-size="28.3" text-anchor="middle" >0</text>
<text transform="translate(917.25 870.6) scale(1 1.065)" font-size="28.3" text-anchor="middle" >500</text>
<text transform="translate(1096.1 870.6) scale(1 1.065)" font-size="28.3" text-anchor="middle" >1000</text>
<text transform="translate(358 910) scale(1 1.0)" font-size="31.0" text-anchor="middle" >time [s]</text>
<text transform="translate(916.8 456.5) scale(1 1.0)" font-size="31.0" text-anchor="middle" >time [s]</text>
<text transform="translate(916.8 910.5) scale(1 1.0)" font-size="31.0" text-anchor="middle" >time [s]</text>
<text transform="translate(85.8 224.21) scale(1 1.065)" font-size="28.3" text-anchor="end" >0</text>
<text transform="translate(85.8 168.74) scale(1 1.065)" font-size="28.3" text-anchor="end" >0.2</text>
<text transform="translate(85.8 113.27) scale(1 1.065)" font-size="28.3" text-anchor="end" >0.4</text>
<text transform="translate(85.8 359.86) scale(1 1.065)" font-size="28.3" text-anchor="end" >1</text>
<text transform="translate(85.8 447.5) scale(1 1.065)" font-size="28.3" text-anchor="end" >0</text>
<text transform="translate(85.8 535.14) scale(1 1.065)" font-size="28.3" text-anchor="end" >-1</text>
<text transform="translate(70.7 651) scale(1 1.065)" font-size="28.3" text-anchor="end" >10</text>
<text transform="translate(85 635.7) scale(1 1.065)" font-size="22.0" text-anchor="end" >4</text>
<text transform="translate(70.7 745.95) scale(1 1.065)" font-size="28.3" text-anchor="end" >10</text>
<text transform="translate(85 730.95) scale(1 1.065)" font-size="22.0" text-anchor="end" >2</text>
<text transform="translate(70.7 842.3) scale(1 1.065)" font-size="28.3" text-anchor="end" >10</text>
<text transform="translate(85 827.3) scale(1 1.065)" font-size="22.0" text-anchor="end" >0</text>
<text transform="translate(711.3 70.2) scale(1 1.065)" font-size="28.3" text-anchor="end" >10</text>
<text transform="translate(725.6 56.1) scale(1 1.065)" font-size="22.0" text-anchor="end" >4</text>
<text transform="translate(711.3 231.05) scale(1 1.065)" font-size="28.3" text-anchor="end" >10</text>
<text transform="translate(725.6 216.95) scale(1 1.065)" font-size="22.0" text-anchor="end" >3</text>
<text transform="translate(711.3 392.35) scale(1 1.065)" font-size="28.3" text-anchor="end" >10</text>
<text transform="translate(725.6 378.25) scale(1 1.065)" font-size="22.0" text-anchor="end" >2</text>
<text transform="translate(711.3 523.7) scale(1 1.065)" font-size="28.3" text-anchor="end" >10</text>
<text transform="translate(725.6 509.6) scale(1 1.065)" font-size="22.0" text-anchor="end" >4</text>
<text transform="translate(711.3 630.75) scale(1 1.065)" font-size="28.3" text-anchor="end" >10</text>
<text transform="translate(725.6 616.65) scale(1 1.065)" font-size="22.0" text-anchor="end" >3</text>
<text transform="translate(711.3 738.25) scale(1 1.065)" font-size="28.3" text-anchor="end" >10</text>
<text transform="translate(725.6 724.15) scale(1 1.065)" font-size="22.0" text-anchor="end" >2</text>
<text transform="translate(711.3 845.75) scale(1 1.065)" font-size="28.3" text-anchor="end" >10</text>
<text transform="translate(725.6 831.65) scale(1 1.065)" font-size="22.0" text-anchor="end" >1</text>
<text transform="translate(28.8 144.5) rotate(-90) scale(1 1.0)" font-size="31.0" text-anchor="middle" >[V]</text>
<text transform="translate(44.3 519.8) rotate(-90) scale(1 1.0)" font-size="31.0" text-anchor="start" >sign(</text>
<text transform="translate(44.3 450.4) rotate(-90) scale(1.16 1)" font-size="31.0">Δ</text>
<text transform="translate(44.3 425.2) rotate(-90) scale(1 1.0)" font-size="31.0" text-anchor="start" >gain)</text>
<text transform="translate(23.6 732.5) rotate(-90) scale(1 1.0)" font-size="31.0" text-anchor="middle" >sADC value</text>
<text transform="translate(665.1 216.9) rotate(-90) scale(1 1.0)" font-size="31.0" text-anchor="middle" >firing rate [Hz]</text>
<text transform="translate(665.1 670.2) rotate(-90) scale(1 1.0)" font-size="31.0" text-anchor="middle" >firing rate [Hz]</text>
<text stroke="none" class="cap" x="294" y="965.8" font-size="30" textLength="36.5" lengthAdjust="spacingAndGlyphs">(a)</text>
<text stroke="none" class="cap" x="704.6" y="965.8" font-size="30" textLength="362.5" lengthAdjust="spacingAndGlyphs">(b) Homeostasis timescale</text>
</g>
</svg></body></html>
